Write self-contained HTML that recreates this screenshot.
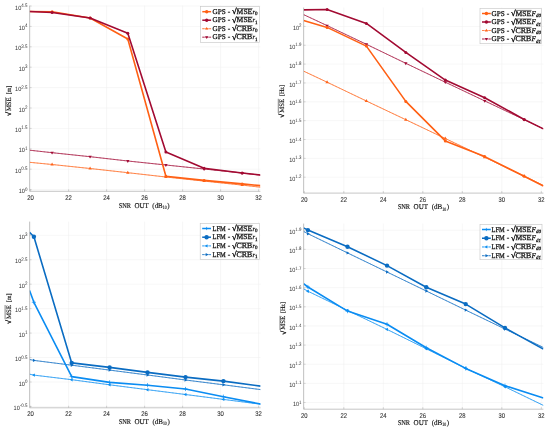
<!DOCTYPE html>
<html><head><meta charset="utf-8"><title>MSE vs SNR</title>
<style>html,body{margin:0;padding:0;background:#fff}svg{display:block}</style>
</head><body>
<svg width="550" height="432" viewBox="0 0 550 432" text-rendering="geometricPrecision">
<rect width="550" height="432" fill="#fff"/>
<defs>
<clipPath id="c0"><rect x="29.55" y="4.7" width="230.85" height="186.6"/></clipPath>
<clipPath id="c1"><rect x="303.55" y="6.6" width="239.85" height="186.5"/></clipPath>
<clipPath id="c2"><rect x="29.55" y="220.6" width="231.05" height="187.2"/></clipPath>
<clipPath id="c3"><rect x="303.55" y="222.6" width="239.85" height="186.6"/></clipPath>
</defs>
<line x1="30.6" y1="5.7" x2="30.6" y2="191.3" stroke="#eeeeee" stroke-width="0.5"/>
<line x1="68.6" y1="5.7" x2="68.6" y2="191.3" stroke="#eeeeee" stroke-width="0.5"/>
<line x1="106.6" y1="5.7" x2="106.6" y2="191.3" stroke="#eeeeee" stroke-width="0.5"/>
<line x1="144.6" y1="5.7" x2="144.6" y2="191.3" stroke="#eeeeee" stroke-width="0.5"/>
<line x1="182.6" y1="5.7" x2="182.6" y2="191.3" stroke="#eeeeee" stroke-width="0.5"/>
<line x1="220.6" y1="5.7" x2="220.6" y2="191.3" stroke="#eeeeee" stroke-width="0.5"/>
<line x1="258.6" y1="5.7" x2="258.6" y2="191.3" stroke="#eeeeee" stroke-width="0.5"/>
<line x1="29.55" y1="189.6" x2="260.4" y2="189.6" stroke="#eeeeee" stroke-width="0.5"/>
<line x1="29.55" y1="169.2" x2="260.4" y2="169.2" stroke="#eeeeee" stroke-width="0.5"/>
<line x1="29.55" y1="148.8" x2="260.4" y2="148.8" stroke="#eeeeee" stroke-width="0.5"/>
<line x1="29.55" y1="128.4" x2="260.4" y2="128.4" stroke="#eeeeee" stroke-width="0.5"/>
<line x1="29.55" y1="108" x2="260.4" y2="108" stroke="#eeeeee" stroke-width="0.5"/>
<line x1="29.55" y1="87.6" x2="260.4" y2="87.6" stroke="#eeeeee" stroke-width="0.5"/>
<line x1="29.55" y1="67.2" x2="260.4" y2="67.2" stroke="#eeeeee" stroke-width="0.5"/>
<line x1="29.55" y1="46.8" x2="260.4" y2="46.8" stroke="#eeeeee" stroke-width="0.5"/>
<line x1="29.55" y1="26.4" x2="260.4" y2="26.4" stroke="#eeeeee" stroke-width="0.5"/>
<line x1="29.55" y1="6" x2="260.4" y2="6" stroke="#eeeeee" stroke-width="0.5"/>
<line x1="304.3" y1="7.6" x2="304.3" y2="193.1" stroke="#eeeeee" stroke-width="0.5"/>
<line x1="343.8" y1="7.6" x2="343.8" y2="193.1" stroke="#eeeeee" stroke-width="0.5"/>
<line x1="383.3" y1="7.6" x2="383.3" y2="193.1" stroke="#eeeeee" stroke-width="0.5"/>
<line x1="422.8" y1="7.6" x2="422.8" y2="193.1" stroke="#eeeeee" stroke-width="0.5"/>
<line x1="462.3" y1="7.6" x2="462.3" y2="193.1" stroke="#eeeeee" stroke-width="0.5"/>
<line x1="501.8" y1="7.6" x2="501.8" y2="193.1" stroke="#eeeeee" stroke-width="0.5"/>
<line x1="541.3" y1="7.6" x2="541.3" y2="193.1" stroke="#eeeeee" stroke-width="0.5"/>
<line x1="303.55" y1="177.2" x2="543.4" y2="177.2" stroke="#eeeeee" stroke-width="0.5"/>
<line x1="303.55" y1="158.35" x2="543.4" y2="158.35" stroke="#eeeeee" stroke-width="0.5"/>
<line x1="303.55" y1="139.5" x2="543.4" y2="139.5" stroke="#eeeeee" stroke-width="0.5"/>
<line x1="303.55" y1="120.65" x2="543.4" y2="120.65" stroke="#eeeeee" stroke-width="0.5"/>
<line x1="303.55" y1="101.8" x2="543.4" y2="101.8" stroke="#eeeeee" stroke-width="0.5"/>
<line x1="303.55" y1="82.95" x2="543.4" y2="82.95" stroke="#eeeeee" stroke-width="0.5"/>
<line x1="303.55" y1="64.1" x2="543.4" y2="64.1" stroke="#eeeeee" stroke-width="0.5"/>
<line x1="303.55" y1="45.25" x2="543.4" y2="45.25" stroke="#eeeeee" stroke-width="0.5"/>
<line x1="303.55" y1="26.4" x2="543.4" y2="26.4" stroke="#eeeeee" stroke-width="0.5"/>
<line x1="30.6" y1="221.6" x2="30.6" y2="407.8" stroke="#eeeeee" stroke-width="0.5"/>
<line x1="68.6" y1="221.6" x2="68.6" y2="407.8" stroke="#eeeeee" stroke-width="0.5"/>
<line x1="106.6" y1="221.6" x2="106.6" y2="407.8" stroke="#eeeeee" stroke-width="0.5"/>
<line x1="144.6" y1="221.6" x2="144.6" y2="407.8" stroke="#eeeeee" stroke-width="0.5"/>
<line x1="182.6" y1="221.6" x2="182.6" y2="407.8" stroke="#eeeeee" stroke-width="0.5"/>
<line x1="220.6" y1="221.6" x2="220.6" y2="407.8" stroke="#eeeeee" stroke-width="0.5"/>
<line x1="258.6" y1="221.6" x2="258.6" y2="407.8" stroke="#eeeeee" stroke-width="0.5"/>
<line x1="29.55" y1="406.45" x2="260.6" y2="406.45" stroke="#eeeeee" stroke-width="0.5"/>
<line x1="29.55" y1="382" x2="260.6" y2="382" stroke="#eeeeee" stroke-width="0.5"/>
<line x1="29.55" y1="357.55" x2="260.6" y2="357.55" stroke="#eeeeee" stroke-width="0.5"/>
<line x1="29.55" y1="333.1" x2="260.6" y2="333.1" stroke="#eeeeee" stroke-width="0.5"/>
<line x1="29.55" y1="308.65" x2="260.6" y2="308.65" stroke="#eeeeee" stroke-width="0.5"/>
<line x1="29.55" y1="284.2" x2="260.6" y2="284.2" stroke="#eeeeee" stroke-width="0.5"/>
<line x1="29.55" y1="259.75" x2="260.6" y2="259.75" stroke="#eeeeee" stroke-width="0.5"/>
<line x1="29.55" y1="235.3" x2="260.6" y2="235.3" stroke="#eeeeee" stroke-width="0.5"/>
<line x1="304.3" y1="223.6" x2="304.3" y2="409.2" stroke="#eeeeee" stroke-width="0.5"/>
<line x1="343.8" y1="223.6" x2="343.8" y2="409.2" stroke="#eeeeee" stroke-width="0.5"/>
<line x1="383.3" y1="223.6" x2="383.3" y2="409.2" stroke="#eeeeee" stroke-width="0.5"/>
<line x1="422.8" y1="223.6" x2="422.8" y2="409.2" stroke="#eeeeee" stroke-width="0.5"/>
<line x1="462.3" y1="223.6" x2="462.3" y2="409.2" stroke="#eeeeee" stroke-width="0.5"/>
<line x1="501.8" y1="223.6" x2="501.8" y2="409.2" stroke="#eeeeee" stroke-width="0.5"/>
<line x1="541.3" y1="223.6" x2="541.3" y2="409.2" stroke="#eeeeee" stroke-width="0.5"/>
<line x1="303.55" y1="402.5" x2="543.4" y2="402.5" stroke="#eeeeee" stroke-width="0.5"/>
<line x1="303.55" y1="383.36" x2="543.4" y2="383.36" stroke="#eeeeee" stroke-width="0.5"/>
<line x1="303.55" y1="364.22" x2="543.4" y2="364.22" stroke="#eeeeee" stroke-width="0.5"/>
<line x1="303.55" y1="345.08" x2="543.4" y2="345.08" stroke="#eeeeee" stroke-width="0.5"/>
<line x1="303.55" y1="325.94" x2="543.4" y2="325.94" stroke="#eeeeee" stroke-width="0.5"/>
<line x1="303.55" y1="306.8" x2="543.4" y2="306.8" stroke="#eeeeee" stroke-width="0.5"/>
<line x1="303.55" y1="287.66" x2="543.4" y2="287.66" stroke="#eeeeee" stroke-width="0.5"/>
<line x1="303.55" y1="268.52" x2="543.4" y2="268.52" stroke="#eeeeee" stroke-width="0.5"/>
<line x1="303.55" y1="249.38" x2="543.4" y2="249.38" stroke="#eeeeee" stroke-width="0.5"/>
<line x1="303.55" y1="230.24" x2="543.4" y2="230.24" stroke="#eeeeee" stroke-width="0.5"/>
<path d="M29.55 150.2L52.1 152.7L90.1 156.7L127.8 161L165.9 165L204.1 169L242.1 173L260.4 175.2" fill="none" stroke="#a20c36" stroke-width="1.0" stroke-opacity="0.68" clip-path="url(#c0)"/>
<path d="M29.55 150.2L52.1 152.7L90.1 156.7L127.8 161L165.9 165L204.1 169L242.1 173L260.4 175.2" fill="none" stroke="#a20c36" stroke-width="1.0" stroke-opacity="0.42" stroke-dasharray="2 0.6 0.3 0.6" clip-path="url(#c0)"/>
<path d="M50.39 151.75L53.81 151.75L52.1 154.6Z" fill="#a20c36"/>
<path d="M88.39 155.75L91.81 155.75L90.1 158.6Z" fill="#a20c36"/>
<path d="M126.09 160.05L129.51 160.05L127.8 162.9Z" fill="#a20c36"/>
<path d="M164.19 164.05L167.61 164.05L165.9 166.9Z" fill="#a20c36"/>
<path d="M202.39 168.05L205.81 168.05L204.1 170.9Z" fill="#a20c36"/>
<path d="M240.39 172.05L243.81 172.05L242.1 174.9Z" fill="#a20c36"/>
<path d="M29.55 162.3L52.1 164.5L90.1 168.5L127.8 172.7L165.9 177L204.1 181.1L242.1 185.1L260.4 187.2" fill="none" stroke="#ff641a" stroke-width="1.0" stroke-opacity="0.68" clip-path="url(#c0)"/>
<path d="M29.55 162.3L52.1 164.5L90.1 168.5L127.8 172.7L165.9 177L204.1 181.1L242.1 185.1L260.4 187.2" fill="none" stroke="#ff641a" stroke-width="1.0" stroke-opacity="0.42" stroke-dasharray="2 0.6 0.3 0.6" clip-path="url(#c0)"/>
<path d="M50.39 165.45L53.81 165.45L52.1 162.6Z" fill="#ff641a"/>
<path d="M88.39 169.45L91.81 169.45L90.1 166.6Z" fill="#ff641a"/>
<path d="M126.09 173.65L129.51 173.65L127.8 170.8Z" fill="#ff641a"/>
<path d="M164.19 177.95L167.61 177.95L165.9 175.1Z" fill="#ff641a"/>
<path d="M202.39 182.05L205.81 182.05L204.1 179.2Z" fill="#ff641a"/>
<path d="M240.39 186.05L243.81 186.05L242.1 183.2Z" fill="#ff641a"/>
<path d="M29.55 11.5L52.1 11.8L90.1 18L127.8 39L165.9 176.3L204.1 180.4L242.1 183.9L260.4 185.6" fill="none" stroke="#ff6014" stroke-width="1.6" stroke-linejoin="round" clip-path="url(#c0)"/>
<circle cx="52.1" cy="11.8" r="1.5" fill="#ff6014"/>
<circle cx="90.1" cy="18" r="1.5" fill="#ff6014"/>
<circle cx="127.8" cy="39" r="1.5" fill="#ff6014"/>
<circle cx="165.9" cy="176.3" r="1.5" fill="#ff6014"/>
<circle cx="204.1" cy="180.4" r="1.5" fill="#ff6014"/>
<circle cx="242.1" cy="183.9" r="1.5" fill="#ff6014"/>
<path d="M29.55 11.5L52.1 12.5L90.1 18L127.8 33.2L165.9 152L204.1 168.3L242.1 173L260.4 175" fill="none" stroke="#a20a32" stroke-width="1.6" stroke-linejoin="round" clip-path="url(#c0)"/>
<circle cx="52.1" cy="12.5" r="1.5" fill="#a20a32"/>
<circle cx="90.1" cy="18" r="1.5" fill="#a20a32"/>
<circle cx="127.8" cy="33.2" r="1.5" fill="#a20a32"/>
<circle cx="165.9" cy="152" r="1.5" fill="#a20a32"/>
<circle cx="204.1" cy="168.3" r="1.5" fill="#a20a32"/>
<circle cx="242.1" cy="173" r="1.5" fill="#a20a32"/>
<path d="M303.55 14.6L327.1 25.6L366.4 44.3L405.8 63.3L445.3 82.2L484.7 100.9L524.1 119.6L543.4 128.9" fill="none" stroke="#a20c36" stroke-width="1.0" stroke-opacity="0.68" clip-path="url(#c1)"/>
<path d="M303.55 14.6L327.1 25.6L366.4 44.3L405.8 63.3L445.3 82.2L484.7 100.9L524.1 119.6L543.4 128.9" fill="none" stroke="#a20c36" stroke-width="1.0" stroke-opacity="0.42" stroke-dasharray="2 0.6 0.3 0.6" clip-path="url(#c1)"/>
<path d="M325.39 24.65L328.81 24.65L327.1 27.5Z" fill="#a20c36"/>
<path d="M364.69 43.35L368.11 43.35L366.4 46.2Z" fill="#a20c36"/>
<path d="M404.09 62.35L407.51 62.35L405.8 65.2Z" fill="#a20c36"/>
<path d="M443.59 81.25L447.01 81.25L445.3 84.1Z" fill="#a20c36"/>
<path d="M482.99 99.95L486.41 99.95L484.7 102.8Z" fill="#a20c36"/>
<path d="M522.39 118.65L525.81 118.65L524.1 121.5Z" fill="#a20c36"/>
<path d="M303.55 71.1L327.1 82.2L366.4 101L405.8 119.7L445.3 138.5L484.7 157.3L524.1 176L543.4 185.5" fill="none" stroke="#ff641a" stroke-width="1.0" stroke-opacity="0.68" clip-path="url(#c1)"/>
<path d="M303.55 71.1L327.1 82.2L366.4 101L405.8 119.7L445.3 138.5L484.7 157.3L524.1 176L543.4 185.5" fill="none" stroke="#ff641a" stroke-width="1.0" stroke-opacity="0.42" stroke-dasharray="2 0.6 0.3 0.6" clip-path="url(#c1)"/>
<path d="M325.39 83.15L328.81 83.15L327.1 80.3Z" fill="#ff641a"/>
<path d="M364.69 101.95L368.11 101.95L366.4 99.1Z" fill="#ff641a"/>
<path d="M404.09 120.65L407.51 120.65L405.8 117.8Z" fill="#ff641a"/>
<path d="M443.59 139.45L447.01 139.45L445.3 136.6Z" fill="#ff641a"/>
<path d="M482.99 158.25L486.41 158.25L484.7 155.4Z" fill="#ff641a"/>
<path d="M522.39 176.95L525.81 176.95L524.1 174.1Z" fill="#ff641a"/>
<path d="M303.55 20.5L327.1 27.4L366.4 46.1L405.8 101.4L445.3 140.9L484.7 156.6L524.1 176.3L543.4 186" fill="none" stroke="#ff6014" stroke-width="1.6" stroke-linejoin="round" clip-path="url(#c1)"/>
<circle cx="327.1" cy="27.4" r="1.5" fill="#ff6014"/>
<circle cx="366.4" cy="46.1" r="1.5" fill="#ff6014"/>
<circle cx="405.8" cy="101.4" r="1.5" fill="#ff6014"/>
<circle cx="445.3" cy="140.9" r="1.5" fill="#ff6014"/>
<circle cx="484.7" cy="156.6" r="1.5" fill="#ff6014"/>
<circle cx="524.1" cy="176.3" r="1.5" fill="#ff6014"/>
<path d="M303.55 9.9L327.1 9.5L366.4 23.4L405.8 52.4L445.3 80.1L484.7 97.7L524.1 119.4L543.4 128.9" fill="none" stroke="#a20a32" stroke-width="1.6" stroke-linejoin="round" clip-path="url(#c1)"/>
<circle cx="327.1" cy="9.5" r="1.5" fill="#a20a32"/>
<circle cx="366.4" cy="23.4" r="1.5" fill="#a20a32"/>
<circle cx="405.8" cy="52.4" r="1.5" fill="#a20a32"/>
<circle cx="445.3" cy="80.1" r="1.5" fill="#a20a32"/>
<circle cx="484.7" cy="97.7" r="1.5" fill="#a20a32"/>
<circle cx="524.1" cy="119.4" r="1.5" fill="#a20a32"/>
<path d="M29.55 374.2L33.9 375.1L71.7 379.7L109.6 384.8L147.5 389.7L185.5 394.5L223.4 399.4L260.6 404.2" fill="none" stroke="#0e90f2" stroke-width="1.0" stroke-opacity="0.68" clip-path="url(#c2)"/>
<path d="M29.55 374.2L33.9 375.1L71.7 379.7L109.6 384.8L147.5 389.7L185.5 394.5L223.4 399.4L260.6 404.2" fill="none" stroke="#0e90f2" stroke-width="1.0" stroke-opacity="0.42" stroke-dasharray="2 0.6 0.3 0.6" clip-path="url(#c2)"/>
<path d="M34.85 373.39L34.85 376.81L32 375.1Z" fill="#0e90f2"/>
<path d="M72.65 377.99L72.65 381.41L69.8 379.7Z" fill="#0e90f2"/>
<path d="M110.55 383.09L110.55 386.51L107.7 384.8Z" fill="#0e90f2"/>
<path d="M148.45 387.99L148.45 391.41L145.6 389.7Z" fill="#0e90f2"/>
<path d="M186.45 392.79L186.45 396.21L183.6 394.5Z" fill="#0e90f2"/>
<path d="M224.35 397.69L224.35 401.11L221.5 399.4Z" fill="#0e90f2"/>
<path d="M29.55 359.5L33.9 360.4L71.7 365.2L109.6 370.1L147.5 375L185.5 380L223.4 384.8L260.6 389.6" fill="none" stroke="#0c6cc2" stroke-width="1.0" stroke-opacity="0.68" clip-path="url(#c2)"/>
<path d="M29.55 359.5L33.9 360.4L71.7 365.2L109.6 370.1L147.5 375L185.5 380L223.4 384.8L260.6 389.6" fill="none" stroke="#0c6cc2" stroke-width="1.0" stroke-opacity="0.42" stroke-dasharray="2 0.6 0.3 0.6" clip-path="url(#c2)"/>
<path d="M32.95 358.69L32.95 362.11L35.8 360.4Z" fill="#0c6cc2"/>
<path d="M70.75 363.49L70.75 366.91L73.6 365.2Z" fill="#0c6cc2"/>
<path d="M108.65 368.39L108.65 371.81L111.5 370.1Z" fill="#0c6cc2"/>
<path d="M146.55 373.29L146.55 376.71L149.4 375Z" fill="#0c6cc2"/>
<path d="M184.55 378.29L184.55 381.71L187.4 380Z" fill="#0c6cc2"/>
<path d="M222.45 383.09L222.45 386.51L225.3 384.8Z" fill="#0c6cc2"/>
<path d="M29.55 290.4L33.9 302.3L71.7 376.6L109.6 382.4L147.5 385.2L185.5 389L223.4 396.7L260.6 404" fill="none" stroke="#0a8cf2" stroke-width="1.6" stroke-linejoin="round" clip-path="url(#c2)"/>
<path d="M31.8 302.3H36M33.9 300.2V304.4" stroke="#0a8cf2" stroke-width="0.7" fill="none"/>
<path d="M69.6 376.6H73.8M71.7 374.5V378.7" stroke="#0a8cf2" stroke-width="0.7" fill="none"/>
<path d="M107.5 382.4H111.7M109.6 380.3V384.5" stroke="#0a8cf2" stroke-width="0.7" fill="none"/>
<path d="M145.4 385.2H149.6M147.5 383.1V387.3" stroke="#0a8cf2" stroke-width="0.7" fill="none"/>
<path d="M183.4 389H187.6M185.5 386.9V391.1" stroke="#0a8cf2" stroke-width="0.7" fill="none"/>
<path d="M221.3 396.7H225.5M223.4 394.6V398.8" stroke="#0a8cf2" stroke-width="0.7" fill="none"/>
<path d="M29.55 232.4L33.9 236.8L71.7 362.9L109.6 367.4L147.5 372.4L185.5 377.1L223.4 381.1L260.6 386.1" fill="none" stroke="#0a6cc2" stroke-width="1.6" stroke-linejoin="round" clip-path="url(#c2)"/>
<circle cx="33.9" cy="236.8" r="2.2" fill="#0a6cc2"/>
<circle cx="71.7" cy="362.9" r="2.2" fill="#0a6cc2"/>
<circle cx="109.6" cy="367.4" r="2.2" fill="#0a6cc2"/>
<circle cx="147.5" cy="372.4" r="2.2" fill="#0a6cc2"/>
<circle cx="185.5" cy="377.1" r="2.2" fill="#0a6cc2"/>
<circle cx="223.4" cy="381.1" r="2.2" fill="#0a6cc2"/>
<path d="M303.55 288.8L307.9 291.2L347.5 310.4L387 329.4L426.3 348.8L465.7 368.3L505 386.8L543.4 405.4" fill="none" stroke="#0e90f2" stroke-width="1.0" stroke-opacity="0.68" clip-path="url(#c3)"/>
<path d="M303.55 288.8L307.9 291.2L347.5 310.4L387 329.4L426.3 348.8L465.7 368.3L505 386.8L543.4 405.4" fill="none" stroke="#0e90f2" stroke-width="1.0" stroke-opacity="0.42" stroke-dasharray="2 0.6 0.3 0.6" clip-path="url(#c3)"/>
<path d="M308.85 289.49L308.85 292.91L306 291.2Z" fill="#0e90f2"/>
<path d="M348.45 308.69L348.45 312.11L345.6 310.4Z" fill="#0e90f2"/>
<path d="M387.95 327.69L387.95 331.11L385.1 329.4Z" fill="#0e90f2"/>
<path d="M427.25 347.09L427.25 350.51L424.4 348.8Z" fill="#0e90f2"/>
<path d="M466.65 366.59L466.65 370.01L463.8 368.3Z" fill="#0e90f2"/>
<path d="M505.95 385.09L505.95 388.51L503.1 386.8Z" fill="#0e90f2"/>
<path d="M303.55 231.4L307.9 233.7L347.5 252.9L387 272L426.3 291L465.7 310.1L505 329L543.4 347.5" fill="none" stroke="#0c6cc2" stroke-width="1.0" stroke-opacity="0.68" clip-path="url(#c3)"/>
<path d="M303.55 231.4L307.9 233.7L347.5 252.9L387 272L426.3 291L465.7 310.1L505 329L543.4 347.5" fill="none" stroke="#0c6cc2" stroke-width="1.0" stroke-opacity="0.42" stroke-dasharray="2 0.6 0.3 0.6" clip-path="url(#c3)"/>
<path d="M306.95 231.99L306.95 235.41L309.8 233.7Z" fill="#0c6cc2"/>
<path d="M346.55 251.19L346.55 254.61L349.4 252.9Z" fill="#0c6cc2"/>
<path d="M386.05 270.29L386.05 273.71L388.9 272Z" fill="#0c6cc2"/>
<path d="M425.35 289.29L425.35 292.71L428.2 291Z" fill="#0c6cc2"/>
<path d="M464.75 308.39L464.75 311.81L467.6 310.1Z" fill="#0c6cc2"/>
<path d="M504.05 327.29L504.05 330.71L506.9 329Z" fill="#0c6cc2"/>
<path d="M303.55 283.7L307.9 287L347.5 311.1L387 324.3L426.3 347.8L465.7 368.4L505 385.7L543.4 398.1" fill="none" stroke="#0a8cf2" stroke-width="1.6" stroke-linejoin="round" clip-path="url(#c3)"/>
<path d="M305.8 287H310M307.9 284.9V289.1" stroke="#0a8cf2" stroke-width="0.7" fill="none"/>
<path d="M345.4 311.1H349.6M347.5 309V313.2" stroke="#0a8cf2" stroke-width="0.7" fill="none"/>
<path d="M384.9 324.3H389.1M387 322.2V326.4" stroke="#0a8cf2" stroke-width="0.7" fill="none"/>
<path d="M424.2 347.8H428.4M426.3 345.7V349.9" stroke="#0a8cf2" stroke-width="0.7" fill="none"/>
<path d="M463.6 368.4H467.8M465.7 366.3V370.5" stroke="#0a8cf2" stroke-width="0.7" fill="none"/>
<path d="M502.9 385.7H507.1M505 383.6V387.8" stroke="#0a8cf2" stroke-width="0.7" fill="none"/>
<path d="M303.55 227.9L307.9 230.1L347.5 246.7L387 265.6L426.3 287.2L465.7 304.1L505 327.9L543.4 349.1" fill="none" stroke="#0a6cc2" stroke-width="1.6" stroke-linejoin="round" clip-path="url(#c3)"/>
<circle cx="307.9" cy="230.1" r="2.2" fill="#0a6cc2"/>
<circle cx="347.5" cy="246.7" r="2.2" fill="#0a6cc2"/>
<circle cx="387" cy="265.6" r="2.2" fill="#0a6cc2"/>
<circle cx="426.3" cy="287.2" r="2.2" fill="#0a6cc2"/>
<circle cx="465.7" cy="304.1" r="2.2" fill="#0a6cc2"/>
<circle cx="505" cy="327.9" r="2.2" fill="#0a6cc2"/>
<path d="M29.55 5.7V191.3H260.4" fill="none" stroke="#adadad" stroke-width="0.7"/>
<line x1="30.6" y1="191.3" x2="30.6" y2="189.3" stroke="#adadad" stroke-width="0.5"/>
<g transform="translate(30.6,199.9) scale(0.86,1)"><text x="0" y="0" font-family='"Liberation Sans", sans-serif' font-size="6.9" fill="#333" stroke="#333" stroke-width="0.1" text-anchor="middle">20</text></g>
<line x1="68.6" y1="191.3" x2="68.6" y2="189.3" stroke="#adadad" stroke-width="0.5"/>
<g transform="translate(68.6,199.9) scale(0.86,1)"><text x="0" y="0" font-family='"Liberation Sans", sans-serif' font-size="6.9" fill="#333" stroke="#333" stroke-width="0.1" text-anchor="middle">22</text></g>
<line x1="106.6" y1="191.3" x2="106.6" y2="189.3" stroke="#adadad" stroke-width="0.5"/>
<g transform="translate(106.6,199.9) scale(0.86,1)"><text x="0" y="0" font-family='"Liberation Sans", sans-serif' font-size="6.9" fill="#333" stroke="#333" stroke-width="0.1" text-anchor="middle">24</text></g>
<line x1="144.6" y1="191.3" x2="144.6" y2="189.3" stroke="#adadad" stroke-width="0.5"/>
<g transform="translate(144.6,199.9) scale(0.86,1)"><text x="0" y="0" font-family='"Liberation Sans", sans-serif' font-size="6.9" fill="#333" stroke="#333" stroke-width="0.1" text-anchor="middle">26</text></g>
<line x1="182.6" y1="191.3" x2="182.6" y2="189.3" stroke="#adadad" stroke-width="0.5"/>
<g transform="translate(182.6,199.9) scale(0.86,1)"><text x="0" y="0" font-family='"Liberation Sans", sans-serif' font-size="6.9" fill="#333" stroke="#333" stroke-width="0.1" text-anchor="middle">28</text></g>
<line x1="220.6" y1="191.3" x2="220.6" y2="189.3" stroke="#adadad" stroke-width="0.5"/>
<g transform="translate(220.6,199.9) scale(0.86,1)"><text x="0" y="0" font-family='"Liberation Sans", sans-serif' font-size="6.9" fill="#333" stroke="#333" stroke-width="0.1" text-anchor="middle">30</text></g>
<line x1="258.6" y1="191.3" x2="258.6" y2="189.3" stroke="#adadad" stroke-width="0.5"/>
<g transform="translate(258.6,199.9) scale(0.86,1)"><text x="0" y="0" font-family='"Liberation Sans", sans-serif' font-size="6.9" fill="#333" stroke="#333" stroke-width="0.1" text-anchor="middle">32</text></g>
<line x1="29.55" y1="189.6" x2="31.55" y2="189.6" stroke="#adadad" stroke-width="0.5"/>
<g transform="translate(27.45,193.2) scale(0.9,1)"><text x="0" y="0" font-family='"Liberation Sans", sans-serif' font-size="6.2" fill="#333" text-anchor="end">10<tspan font-size="4.97" dy="-2.6">0</tspan></text></g>
<line x1="29.55" y1="169.2" x2="31.55" y2="169.2" stroke="#adadad" stroke-width="0.5"/>
<g transform="translate(27.45,172.8) scale(0.9,1)"><text x="0" y="0" font-family='"Liberation Sans", sans-serif' font-size="6.2" fill="#333" text-anchor="end">10<tspan font-size="4.97" dy="-2.6">0.5</tspan></text></g>
<line x1="29.55" y1="148.8" x2="31.55" y2="148.8" stroke="#adadad" stroke-width="0.5"/>
<g transform="translate(27.45,152.4) scale(0.9,1)"><text x="0" y="0" font-family='"Liberation Sans", sans-serif' font-size="6.2" fill="#333" text-anchor="end">10<tspan font-size="4.97" dy="-2.6">1</tspan></text></g>
<line x1="29.55" y1="128.4" x2="31.55" y2="128.4" stroke="#adadad" stroke-width="0.5"/>
<g transform="translate(27.45,132) scale(0.9,1)"><text x="0" y="0" font-family='"Liberation Sans", sans-serif' font-size="6.2" fill="#333" text-anchor="end">10<tspan font-size="4.97" dy="-2.6">1.5</tspan></text></g>
<line x1="29.55" y1="108" x2="31.55" y2="108" stroke="#adadad" stroke-width="0.5"/>
<g transform="translate(27.45,111.6) scale(0.9,1)"><text x="0" y="0" font-family='"Liberation Sans", sans-serif' font-size="6.2" fill="#333" text-anchor="end">10<tspan font-size="4.97" dy="-2.6">2</tspan></text></g>
<line x1="29.55" y1="87.6" x2="31.55" y2="87.6" stroke="#adadad" stroke-width="0.5"/>
<g transform="translate(27.45,91.2) scale(0.9,1)"><text x="0" y="0" font-family='"Liberation Sans", sans-serif' font-size="6.2" fill="#333" text-anchor="end">10<tspan font-size="4.97" dy="-2.6">2.5</tspan></text></g>
<line x1="29.55" y1="67.2" x2="31.55" y2="67.2" stroke="#adadad" stroke-width="0.5"/>
<g transform="translate(27.45,70.8) scale(0.9,1)"><text x="0" y="0" font-family='"Liberation Sans", sans-serif' font-size="6.2" fill="#333" text-anchor="end">10<tspan font-size="4.97" dy="-2.6">3</tspan></text></g>
<line x1="29.55" y1="46.8" x2="31.55" y2="46.8" stroke="#adadad" stroke-width="0.5"/>
<g transform="translate(27.45,50.4) scale(0.9,1)"><text x="0" y="0" font-family='"Liberation Sans", sans-serif' font-size="6.2" fill="#333" text-anchor="end">10<tspan font-size="4.97" dy="-2.6">3.5</tspan></text></g>
<line x1="29.55" y1="26.4" x2="31.55" y2="26.4" stroke="#adadad" stroke-width="0.5"/>
<g transform="translate(27.45,30) scale(0.9,1)"><text x="0" y="0" font-family='"Liberation Sans", sans-serif' font-size="6.2" fill="#333" text-anchor="end">10<tspan font-size="4.97" dy="-2.6">4</tspan></text></g>
<line x1="29.55" y1="6" x2="31.55" y2="6" stroke="#adadad" stroke-width="0.5"/>
<g transform="translate(27.45,9.6) scale(0.9,1)"><text x="0" y="0" font-family='"Liberation Sans", sans-serif' font-size="6.2" fill="#333" text-anchor="end">10<tspan font-size="4.97" dy="-2.6">4.5</tspan></text></g>
<text x="118.7" y="207.7" font-family='"Liberation Serif", serif' font-size="7.4" fill="#111" text-anchor="start" textLength="12.3" lengthAdjust="spacingAndGlyphs" stroke="#111" stroke-width="0.15">SNR</text>
<text x="134.4" y="207.7" font-family='"Liberation Serif", serif' font-size="7.4" fill="#111" text-anchor="start" textLength="14.4" lengthAdjust="spacingAndGlyphs" stroke="#111" stroke-width="0.15">OUT</text>
<text x="152.3" y="207.7" font-family='"Liberation Serif", serif' font-size="7.4" fill="#111" text-anchor="start" textLength="10.5" lengthAdjust="spacingAndGlyphs" stroke="#111" stroke-width="0.15">(dB</text>
<text x="162.8" y="209" font-family='"Liberation Serif", serif' font-size="5.2" fill="#111" text-anchor="start" textLength="3.8" lengthAdjust="spacingAndGlyphs" stroke="#111" stroke-width="0.15">10</text>
<text x="167.3" y="207.7" font-family='"Liberation Serif", serif' font-size="7.4" fill="#111" text-anchor="start" textLength="2.3" lengthAdjust="spacingAndGlyphs" stroke="#111" stroke-width="0.15">)</text>
<g transform="translate(11,115.8) rotate(-90)"><text x="-0.3" y="0.3" font-family='"Liberation Serif", serif' font-size="7.2" fill="#111" text-anchor="start" stroke="#111" stroke-width="0.3">√</text><text x="4.7" y="0" font-family='"Liberation Serif", serif' font-size="6.7" fill="#111" text-anchor="start" textLength="13.7" lengthAdjust="spacingAndGlyphs" stroke="#111" stroke-width="0.15">MSE</text><text x="21.4" y="0" font-family='"Liberation Serif", serif' font-size="6.7" fill="#111" text-anchor="start" textLength="8.8" lengthAdjust="spacingAndGlyphs" stroke="#111" stroke-width="0.15">[m]</text><line x1="4.3" y1="-5.4" x2="18.6" y2="-5.4" stroke="#222" stroke-width="0.55"/></g>
<path d="M303.55 7.6V193.1H543.4" fill="none" stroke="#adadad" stroke-width="0.7"/>
<line x1="304.3" y1="193.1" x2="304.3" y2="191.1" stroke="#adadad" stroke-width="0.5"/>
<g transform="translate(304.3,201.7) scale(0.86,1)"><text x="0" y="0" font-family='"Liberation Sans", sans-serif' font-size="6.8" fill="#333" stroke="#333" stroke-width="0.1" text-anchor="middle">20</text></g>
<line x1="343.8" y1="193.1" x2="343.8" y2="191.1" stroke="#adadad" stroke-width="0.5"/>
<g transform="translate(343.8,201.7) scale(0.86,1)"><text x="0" y="0" font-family='"Liberation Sans", sans-serif' font-size="6.8" fill="#333" stroke="#333" stroke-width="0.1" text-anchor="middle">22</text></g>
<line x1="383.3" y1="193.1" x2="383.3" y2="191.1" stroke="#adadad" stroke-width="0.5"/>
<g transform="translate(383.3,201.7) scale(0.86,1)"><text x="0" y="0" font-family='"Liberation Sans", sans-serif' font-size="6.8" fill="#333" stroke="#333" stroke-width="0.1" text-anchor="middle">24</text></g>
<line x1="422.8" y1="193.1" x2="422.8" y2="191.1" stroke="#adadad" stroke-width="0.5"/>
<g transform="translate(422.8,201.7) scale(0.86,1)"><text x="0" y="0" font-family='"Liberation Sans", sans-serif' font-size="6.8" fill="#333" stroke="#333" stroke-width="0.1" text-anchor="middle">26</text></g>
<line x1="462.3" y1="193.1" x2="462.3" y2="191.1" stroke="#adadad" stroke-width="0.5"/>
<g transform="translate(462.3,201.7) scale(0.86,1)"><text x="0" y="0" font-family='"Liberation Sans", sans-serif' font-size="6.8" fill="#333" stroke="#333" stroke-width="0.1" text-anchor="middle">28</text></g>
<line x1="501.8" y1="193.1" x2="501.8" y2="191.1" stroke="#adadad" stroke-width="0.5"/>
<g transform="translate(501.8,201.7) scale(0.86,1)"><text x="0" y="0" font-family='"Liberation Sans", sans-serif' font-size="6.8" fill="#333" stroke="#333" stroke-width="0.1" text-anchor="middle">30</text></g>
<line x1="541.3" y1="193.1" x2="541.3" y2="191.1" stroke="#adadad" stroke-width="0.5"/>
<g transform="translate(541.3,201.7) scale(0.86,1)"><text x="0" y="0" font-family='"Liberation Sans", sans-serif' font-size="6.8" fill="#333" stroke="#333" stroke-width="0.1" text-anchor="middle">32</text></g>
<line x1="303.55" y1="177.2" x2="305.55" y2="177.2" stroke="#adadad" stroke-width="0.5"/>
<g transform="translate(301.45,180.8) scale(0.9,1)"><text x="0" y="0" font-family='"Liberation Sans", sans-serif' font-size="6.1" fill="#333" text-anchor="end">10<tspan font-size="4.9" dy="-2.6">1.2</tspan></text></g>
<line x1="303.55" y1="158.35" x2="305.55" y2="158.35" stroke="#adadad" stroke-width="0.5"/>
<g transform="translate(301.45,161.95) scale(0.9,1)"><text x="0" y="0" font-family='"Liberation Sans", sans-serif' font-size="6.1" fill="#333" text-anchor="end">10<tspan font-size="4.9" dy="-2.6">1.3</tspan></text></g>
<line x1="303.55" y1="139.5" x2="305.55" y2="139.5" stroke="#adadad" stroke-width="0.5"/>
<g transform="translate(301.45,143.1) scale(0.9,1)"><text x="0" y="0" font-family='"Liberation Sans", sans-serif' font-size="6.1" fill="#333" text-anchor="end">10<tspan font-size="4.9" dy="-2.6">1.4</tspan></text></g>
<line x1="303.55" y1="120.65" x2="305.55" y2="120.65" stroke="#adadad" stroke-width="0.5"/>
<g transform="translate(301.45,124.25) scale(0.9,1)"><text x="0" y="0" font-family='"Liberation Sans", sans-serif' font-size="6.1" fill="#333" text-anchor="end">10<tspan font-size="4.9" dy="-2.6">1.5</tspan></text></g>
<line x1="303.55" y1="101.8" x2="305.55" y2="101.8" stroke="#adadad" stroke-width="0.5"/>
<g transform="translate(301.45,105.4) scale(0.9,1)"><text x="0" y="0" font-family='"Liberation Sans", sans-serif' font-size="6.1" fill="#333" text-anchor="end">10<tspan font-size="4.9" dy="-2.6">1.6</tspan></text></g>
<line x1="303.55" y1="82.95" x2="305.55" y2="82.95" stroke="#adadad" stroke-width="0.5"/>
<g transform="translate(301.45,86.55) scale(0.9,1)"><text x="0" y="0" font-family='"Liberation Sans", sans-serif' font-size="6.1" fill="#333" text-anchor="end">10<tspan font-size="4.9" dy="-2.6">1.7</tspan></text></g>
<line x1="303.55" y1="64.1" x2="305.55" y2="64.1" stroke="#adadad" stroke-width="0.5"/>
<g transform="translate(301.45,67.7) scale(0.9,1)"><text x="0" y="0" font-family='"Liberation Sans", sans-serif' font-size="6.1" fill="#333" text-anchor="end">10<tspan font-size="4.9" dy="-2.6">1.8</tspan></text></g>
<line x1="303.55" y1="45.25" x2="305.55" y2="45.25" stroke="#adadad" stroke-width="0.5"/>
<g transform="translate(301.45,48.85) scale(0.9,1)"><text x="0" y="0" font-family='"Liberation Sans", sans-serif' font-size="6.1" fill="#333" text-anchor="end">10<tspan font-size="4.9" dy="-2.6">1.9</tspan></text></g>
<line x1="303.55" y1="26.4" x2="305.55" y2="26.4" stroke="#adadad" stroke-width="0.5"/>
<g transform="translate(301.45,30) scale(0.9,1)"><text x="0" y="0" font-family='"Liberation Sans", sans-serif' font-size="6.1" fill="#333" text-anchor="end">10<tspan font-size="4.9" dy="-2.6">2</tspan></text></g>
<text x="397.7" y="209.4" font-family='"Liberation Serif", serif' font-size="7.4" fill="#111" text-anchor="start" textLength="12.42" lengthAdjust="spacingAndGlyphs" stroke="#111" stroke-width="0.15">SNR</text>
<text x="413.55" y="209.4" font-family='"Liberation Serif", serif' font-size="7.4" fill="#111" text-anchor="start" textLength="14.54" lengthAdjust="spacingAndGlyphs" stroke="#111" stroke-width="0.15">OUT</text>
<text x="431.63" y="209.4" font-family='"Liberation Serif", serif' font-size="7.4" fill="#111" text-anchor="start" textLength="10.6" lengthAdjust="spacingAndGlyphs" stroke="#111" stroke-width="0.15">(dB</text>
<text x="442.23" y="210.7" font-family='"Liberation Serif", serif' font-size="5.2" fill="#111" text-anchor="start" textLength="3.84" lengthAdjust="spacingAndGlyphs" stroke="#111" stroke-width="0.15">10</text>
<text x="446.78" y="209.4" font-family='"Liberation Serif", serif' font-size="7.4" fill="#111" text-anchor="start" textLength="2.32" lengthAdjust="spacingAndGlyphs" stroke="#111" stroke-width="0.15">)</text>
<g transform="translate(283.7,117.4) rotate(-90)"><text x="-0.3" y="0.3" font-family='"Liberation Serif", serif' font-size="7.2" fill="#111" text-anchor="start" stroke="#111" stroke-width="0.3">√</text><text x="4.7" y="0" font-family='"Liberation Serif", serif' font-size="6.7" fill="#111" text-anchor="start" textLength="13.7" lengthAdjust="spacingAndGlyphs" stroke="#111" stroke-width="0.15">MSE</text><text x="21.4" y="0" font-family='"Liberation Serif", serif' font-size="6.7" fill="#111" text-anchor="start" textLength="11" lengthAdjust="spacingAndGlyphs" stroke="#111" stroke-width="0.15">[Hz]</text><line x1="4.3" y1="-5.4" x2="18.6" y2="-5.4" stroke="#222" stroke-width="0.55"/></g>
<path d="M29.55 221.6V407.8H260.6" fill="none" stroke="#adadad" stroke-width="0.7"/>
<line x1="30.6" y1="407.8" x2="30.6" y2="405.8" stroke="#adadad" stroke-width="0.5"/>
<g transform="translate(30.6,416.4) scale(0.86,1)"><text x="0" y="0" font-family='"Liberation Sans", sans-serif' font-size="6.9" fill="#333" stroke="#333" stroke-width="0.1" text-anchor="middle">20</text></g>
<line x1="68.6" y1="407.8" x2="68.6" y2="405.8" stroke="#adadad" stroke-width="0.5"/>
<g transform="translate(68.6,416.4) scale(0.86,1)"><text x="0" y="0" font-family='"Liberation Sans", sans-serif' font-size="6.9" fill="#333" stroke="#333" stroke-width="0.1" text-anchor="middle">22</text></g>
<line x1="106.6" y1="407.8" x2="106.6" y2="405.8" stroke="#adadad" stroke-width="0.5"/>
<g transform="translate(106.6,416.4) scale(0.86,1)"><text x="0" y="0" font-family='"Liberation Sans", sans-serif' font-size="6.9" fill="#333" stroke="#333" stroke-width="0.1" text-anchor="middle">24</text></g>
<line x1="144.6" y1="407.8" x2="144.6" y2="405.8" stroke="#adadad" stroke-width="0.5"/>
<g transform="translate(144.6,416.4) scale(0.86,1)"><text x="0" y="0" font-family='"Liberation Sans", sans-serif' font-size="6.9" fill="#333" stroke="#333" stroke-width="0.1" text-anchor="middle">26</text></g>
<line x1="182.6" y1="407.8" x2="182.6" y2="405.8" stroke="#adadad" stroke-width="0.5"/>
<g transform="translate(182.6,416.4) scale(0.86,1)"><text x="0" y="0" font-family='"Liberation Sans", sans-serif' font-size="6.9" fill="#333" stroke="#333" stroke-width="0.1" text-anchor="middle">28</text></g>
<line x1="220.6" y1="407.8" x2="220.6" y2="405.8" stroke="#adadad" stroke-width="0.5"/>
<g transform="translate(220.6,416.4) scale(0.86,1)"><text x="0" y="0" font-family='"Liberation Sans", sans-serif' font-size="6.9" fill="#333" stroke="#333" stroke-width="0.1" text-anchor="middle">30</text></g>
<line x1="258.6" y1="407.8" x2="258.6" y2="405.8" stroke="#adadad" stroke-width="0.5"/>
<g transform="translate(258.6,416.4) scale(0.86,1)"><text x="0" y="0" font-family='"Liberation Sans", sans-serif' font-size="6.9" fill="#333" stroke="#333" stroke-width="0.1" text-anchor="middle">32</text></g>
<line x1="29.55" y1="406.45" x2="31.55" y2="406.45" stroke="#adadad" stroke-width="0.5"/>
<g transform="translate(27.45,410.05) scale(0.9,1)"><text x="0" y="0" font-family='"Liberation Sans", sans-serif' font-size="6.2" fill="#333" text-anchor="end">10<tspan font-size="4.97" dy="-2.6">-0.5</tspan></text></g>
<line x1="29.55" y1="382" x2="31.55" y2="382" stroke="#adadad" stroke-width="0.5"/>
<g transform="translate(27.45,385.6) scale(0.9,1)"><text x="0" y="0" font-family='"Liberation Sans", sans-serif' font-size="6.2" fill="#333" text-anchor="end">10<tspan font-size="4.97" dy="-2.6">0</tspan></text></g>
<line x1="29.55" y1="357.55" x2="31.55" y2="357.55" stroke="#adadad" stroke-width="0.5"/>
<g transform="translate(27.45,361.15) scale(0.9,1)"><text x="0" y="0" font-family='"Liberation Sans", sans-serif' font-size="6.2" fill="#333" text-anchor="end">10<tspan font-size="4.97" dy="-2.6">0.5</tspan></text></g>
<line x1="29.55" y1="333.1" x2="31.55" y2="333.1" stroke="#adadad" stroke-width="0.5"/>
<g transform="translate(27.45,336.7) scale(0.9,1)"><text x="0" y="0" font-family='"Liberation Sans", sans-serif' font-size="6.2" fill="#333" text-anchor="end">10<tspan font-size="4.97" dy="-2.6">1</tspan></text></g>
<line x1="29.55" y1="308.65" x2="31.55" y2="308.65" stroke="#adadad" stroke-width="0.5"/>
<g transform="translate(27.45,312.25) scale(0.9,1)"><text x="0" y="0" font-family='"Liberation Sans", sans-serif' font-size="6.2" fill="#333" text-anchor="end">10<tspan font-size="4.97" dy="-2.6">1.5</tspan></text></g>
<line x1="29.55" y1="284.2" x2="31.55" y2="284.2" stroke="#adadad" stroke-width="0.5"/>
<g transform="translate(27.45,287.8) scale(0.9,1)"><text x="0" y="0" font-family='"Liberation Sans", sans-serif' font-size="6.2" fill="#333" text-anchor="end">10<tspan font-size="4.97" dy="-2.6">2</tspan></text></g>
<line x1="29.55" y1="259.75" x2="31.55" y2="259.75" stroke="#adadad" stroke-width="0.5"/>
<g transform="translate(27.45,263.35) scale(0.9,1)"><text x="0" y="0" font-family='"Liberation Sans", sans-serif' font-size="6.2" fill="#333" text-anchor="end">10<tspan font-size="4.97" dy="-2.6">2.5</tspan></text></g>
<line x1="29.55" y1="235.3" x2="31.55" y2="235.3" stroke="#adadad" stroke-width="0.5"/>
<g transform="translate(27.45,238.9) scale(0.9,1)"><text x="0" y="0" font-family='"Liberation Sans", sans-serif' font-size="6.2" fill="#333" text-anchor="end">10<tspan font-size="4.97" dy="-2.6">3</tspan></text></g>
<text x="118.7" y="423.7" font-family='"Liberation Serif", serif' font-size="7.4" fill="#111" text-anchor="start" textLength="12.35" lengthAdjust="spacingAndGlyphs" stroke="#111" stroke-width="0.15">SNR</text>
<text x="134.46" y="423.7" font-family='"Liberation Serif", serif' font-size="7.4" fill="#111" text-anchor="start" textLength="14.46" lengthAdjust="spacingAndGlyphs" stroke="#111" stroke-width="0.15">OUT</text>
<text x="152.43" y="423.7" font-family='"Liberation Serif", serif' font-size="7.4" fill="#111" text-anchor="start" textLength="10.54" lengthAdjust="spacingAndGlyphs" stroke="#111" stroke-width="0.15">(dB</text>
<text x="162.97" y="425" font-family='"Liberation Serif", serif' font-size="5.2" fill="#111" text-anchor="start" textLength="3.81" lengthAdjust="spacingAndGlyphs" stroke="#111" stroke-width="0.15">10</text>
<text x="167.49" y="423.7" font-family='"Liberation Serif", serif' font-size="7.4" fill="#111" text-anchor="start" textLength="2.31" lengthAdjust="spacingAndGlyphs" stroke="#111" stroke-width="0.15">)</text>
<g transform="translate(10.5,323.6) rotate(-90)"><text x="-0.3" y="0.3" font-family='"Liberation Serif", serif' font-size="7.2" fill="#111" text-anchor="start" stroke="#111" stroke-width="0.3">√</text><text x="4.7" y="0" font-family='"Liberation Serif", serif' font-size="6.7" fill="#111" text-anchor="start" textLength="13.7" lengthAdjust="spacingAndGlyphs" stroke="#111" stroke-width="0.15">MSE</text><text x="21.4" y="0" font-family='"Liberation Serif", serif' font-size="6.7" fill="#111" text-anchor="start" textLength="8.8" lengthAdjust="spacingAndGlyphs" stroke="#111" stroke-width="0.15">[m]</text><line x1="4.3" y1="-5.4" x2="18.6" y2="-5.4" stroke="#222" stroke-width="0.55"/></g>
<path d="M303.55 223.6V409.2H543.4" fill="none" stroke="#adadad" stroke-width="0.7"/>
<line x1="304.3" y1="409.2" x2="304.3" y2="407.2" stroke="#adadad" stroke-width="0.5"/>
<g transform="translate(304.3,417.8) scale(0.86,1)"><text x="0" y="0" font-family='"Liberation Sans", sans-serif' font-size="6.8" fill="#333" stroke="#333" stroke-width="0.1" text-anchor="middle">20</text></g>
<line x1="343.8" y1="409.2" x2="343.8" y2="407.2" stroke="#adadad" stroke-width="0.5"/>
<g transform="translate(343.8,417.8) scale(0.86,1)"><text x="0" y="0" font-family='"Liberation Sans", sans-serif' font-size="6.8" fill="#333" stroke="#333" stroke-width="0.1" text-anchor="middle">22</text></g>
<line x1="383.3" y1="409.2" x2="383.3" y2="407.2" stroke="#adadad" stroke-width="0.5"/>
<g transform="translate(383.3,417.8) scale(0.86,1)"><text x="0" y="0" font-family='"Liberation Sans", sans-serif' font-size="6.8" fill="#333" stroke="#333" stroke-width="0.1" text-anchor="middle">24</text></g>
<line x1="422.8" y1="409.2" x2="422.8" y2="407.2" stroke="#adadad" stroke-width="0.5"/>
<g transform="translate(422.8,417.8) scale(0.86,1)"><text x="0" y="0" font-family='"Liberation Sans", sans-serif' font-size="6.8" fill="#333" stroke="#333" stroke-width="0.1" text-anchor="middle">26</text></g>
<line x1="462.3" y1="409.2" x2="462.3" y2="407.2" stroke="#adadad" stroke-width="0.5"/>
<g transform="translate(462.3,417.8) scale(0.86,1)"><text x="0" y="0" font-family='"Liberation Sans", sans-serif' font-size="6.8" fill="#333" stroke="#333" stroke-width="0.1" text-anchor="middle">28</text></g>
<line x1="501.8" y1="409.2" x2="501.8" y2="407.2" stroke="#adadad" stroke-width="0.5"/>
<g transform="translate(501.8,417.8) scale(0.86,1)"><text x="0" y="0" font-family='"Liberation Sans", sans-serif' font-size="6.8" fill="#333" stroke="#333" stroke-width="0.1" text-anchor="middle">30</text></g>
<line x1="541.3" y1="409.2" x2="541.3" y2="407.2" stroke="#adadad" stroke-width="0.5"/>
<g transform="translate(541.3,417.8) scale(0.86,1)"><text x="0" y="0" font-family='"Liberation Sans", sans-serif' font-size="6.8" fill="#333" stroke="#333" stroke-width="0.1" text-anchor="middle">32</text></g>
<line x1="303.55" y1="402.5" x2="305.55" y2="402.5" stroke="#adadad" stroke-width="0.5"/>
<g transform="translate(301.45,406.1) scale(0.9,1)"><text x="0" y="0" font-family='"Liberation Sans", sans-serif' font-size="6.1" fill="#333" text-anchor="end">10<tspan font-size="4.9" dy="-2.6">1</tspan></text></g>
<line x1="303.55" y1="383.36" x2="305.55" y2="383.36" stroke="#adadad" stroke-width="0.5"/>
<g transform="translate(301.45,386.96) scale(0.9,1)"><text x="0" y="0" font-family='"Liberation Sans", sans-serif' font-size="6.1" fill="#333" text-anchor="end">10<tspan font-size="4.9" dy="-2.6">1.1</tspan></text></g>
<line x1="303.55" y1="364.22" x2="305.55" y2="364.22" stroke="#adadad" stroke-width="0.5"/>
<g transform="translate(301.45,367.82) scale(0.9,1)"><text x="0" y="0" font-family='"Liberation Sans", sans-serif' font-size="6.1" fill="#333" text-anchor="end">10<tspan font-size="4.9" dy="-2.6">1.2</tspan></text></g>
<line x1="303.55" y1="345.08" x2="305.55" y2="345.08" stroke="#adadad" stroke-width="0.5"/>
<g transform="translate(301.45,348.68) scale(0.9,1)"><text x="0" y="0" font-family='"Liberation Sans", sans-serif' font-size="6.1" fill="#333" text-anchor="end">10<tspan font-size="4.9" dy="-2.6">1.3</tspan></text></g>
<line x1="303.55" y1="325.94" x2="305.55" y2="325.94" stroke="#adadad" stroke-width="0.5"/>
<g transform="translate(301.45,329.54) scale(0.9,1)"><text x="0" y="0" font-family='"Liberation Sans", sans-serif' font-size="6.1" fill="#333" text-anchor="end">10<tspan font-size="4.9" dy="-2.6">1.4</tspan></text></g>
<line x1="303.55" y1="306.8" x2="305.55" y2="306.8" stroke="#adadad" stroke-width="0.5"/>
<g transform="translate(301.45,310.4) scale(0.9,1)"><text x="0" y="0" font-family='"Liberation Sans", sans-serif' font-size="6.1" fill="#333" text-anchor="end">10<tspan font-size="4.9" dy="-2.6">1.5</tspan></text></g>
<line x1="303.55" y1="287.66" x2="305.55" y2="287.66" stroke="#adadad" stroke-width="0.5"/>
<g transform="translate(301.45,291.26) scale(0.9,1)"><text x="0" y="0" font-family='"Liberation Sans", sans-serif' font-size="6.1" fill="#333" text-anchor="end">10<tspan font-size="4.9" dy="-2.6">1.6</tspan></text></g>
<line x1="303.55" y1="268.52" x2="305.55" y2="268.52" stroke="#adadad" stroke-width="0.5"/>
<g transform="translate(301.45,272.12) scale(0.9,1)"><text x="0" y="0" font-family='"Liberation Sans", sans-serif' font-size="6.1" fill="#333" text-anchor="end">10<tspan font-size="4.9" dy="-2.6">1.7</tspan></text></g>
<line x1="303.55" y1="249.38" x2="305.55" y2="249.38" stroke="#adadad" stroke-width="0.5"/>
<g transform="translate(301.45,252.98) scale(0.9,1)"><text x="0" y="0" font-family='"Liberation Sans", sans-serif' font-size="6.1" fill="#333" text-anchor="end">10<tspan font-size="4.9" dy="-2.6">1.8</tspan></text></g>
<line x1="303.55" y1="230.24" x2="305.55" y2="230.24" stroke="#adadad" stroke-width="0.5"/>
<g transform="translate(301.45,233.84) scale(0.9,1)"><text x="0" y="0" font-family='"Liberation Sans", sans-serif' font-size="6.1" fill="#333" text-anchor="end">10<tspan font-size="4.9" dy="-2.6">1.9</tspan></text></g>
<text x="397.7" y="425" font-family='"Liberation Serif", serif' font-size="7.4" fill="#111" text-anchor="start" textLength="12.42" lengthAdjust="spacingAndGlyphs" stroke="#111" stroke-width="0.15">SNR</text>
<text x="413.55" y="425" font-family='"Liberation Serif", serif' font-size="7.4" fill="#111" text-anchor="start" textLength="14.54" lengthAdjust="spacingAndGlyphs" stroke="#111" stroke-width="0.15">OUT</text>
<text x="431.63" y="425" font-family='"Liberation Serif", serif' font-size="7.4" fill="#111" text-anchor="start" textLength="10.6" lengthAdjust="spacingAndGlyphs" stroke="#111" stroke-width="0.15">(dB</text>
<text x="442.23" y="426.3" font-family='"Liberation Serif", serif' font-size="5.2" fill="#111" text-anchor="start" textLength="3.84" lengthAdjust="spacingAndGlyphs" stroke="#111" stroke-width="0.15">10</text>
<text x="446.78" y="425" font-family='"Liberation Serif", serif' font-size="7.4" fill="#111" text-anchor="start" textLength="2.32" lengthAdjust="spacingAndGlyphs" stroke="#111" stroke-width="0.15">)</text>
<g transform="translate(285.4,334.4) rotate(-90)"><text x="-0.3" y="0.3" font-family='"Liberation Serif", serif' font-size="7.2" fill="#111" text-anchor="start" stroke="#111" stroke-width="0.3">√</text><text x="4.7" y="0" font-family='"Liberation Serif", serif' font-size="6.7" fill="#111" text-anchor="start" textLength="13.7" lengthAdjust="spacingAndGlyphs" stroke="#111" stroke-width="0.15">MSE</text><text x="21.4" y="0" font-family='"Liberation Serif", serif' font-size="6.7" fill="#111" text-anchor="start" textLength="11" lengthAdjust="spacingAndGlyphs" stroke="#111" stroke-width="0.15">[Hz]</text><line x1="4.3" y1="-5.4" x2="18.6" y2="-5.4" stroke="#222" stroke-width="0.55"/></g>
<rect x="200.3" y="6.5" width="59.2" height="35.8" fill="#fff" stroke="#c4c4c4" stroke-width="0.6"/>
<line x1="202.3" y1="11.7" x2="211.1" y2="11.7" stroke="#ff6014" stroke-width="1.5"/>
<circle cx="206.7" cy="11.7" r="1.7" fill="#ff6014"/>
<text x="212.6" y="13.9" font-family='"Liberation Serif", serif' font-size="7.4" fill="#1a1a1a" text-anchor="start" textLength="13.2" lengthAdjust="spacingAndGlyphs" stroke="#111" stroke-width="0.27">GPS</text>
<text x="227.8" y="13.9" font-family='"Liberation Serif", serif' font-size="7.4" fill="#1a1a1a" text-anchor="start" stroke="#111" stroke-width="0.27">-</text>
<text x="232" y="14.4" font-family='"Liberation Serif", serif' font-size="8.3" fill="#1a1a1a" text-anchor="start" stroke="#111" stroke-width="0.35">√</text>
<text x="236.6" y="13.9" font-family='"Liberation Serif", serif' font-size="7.4" fill="#1a1a1a" text-anchor="start" textLength="15.7" lengthAdjust="spacingAndGlyphs" stroke="#111" stroke-width="0.27">MSE</text>
<line x1="236.2" y1="8.6" x2="252.6" y2="8.6" stroke="#1a1a1a" stroke-width="0.6"/>
<text x="252.5" y="13.9" font-family='"Liberation Serif", serif' font-size="6.6" fill="#1a1a1a" text-anchor="start" font-style="italic" stroke="#111" stroke-width="0.27">r</text>
<text x="255.1" y="15.1" font-family='"Liberation Serif", serif' font-size="5.0" fill="#1a1a1a" text-anchor="start" stroke="#111" stroke-width="0.27">0</text>
<line x1="202.3" y1="20.2" x2="211.1" y2="20.2" stroke="#a20a32" stroke-width="1.5"/>
<circle cx="206.7" cy="20.2" r="1.7" fill="#a20a32"/>
<text x="212.6" y="22.4" font-family='"Liberation Serif", serif' font-size="7.4" fill="#1a1a1a" text-anchor="start" textLength="13.2" lengthAdjust="spacingAndGlyphs" stroke="#111" stroke-width="0.27">GPS</text>
<text x="227.8" y="22.4" font-family='"Liberation Serif", serif' font-size="7.4" fill="#1a1a1a" text-anchor="start" stroke="#111" stroke-width="0.27">-</text>
<text x="232" y="22.9" font-family='"Liberation Serif", serif' font-size="8.3" fill="#1a1a1a" text-anchor="start" stroke="#111" stroke-width="0.35">√</text>
<text x="236.6" y="22.4" font-family='"Liberation Serif", serif' font-size="7.4" fill="#1a1a1a" text-anchor="start" textLength="15.7" lengthAdjust="spacingAndGlyphs" stroke="#111" stroke-width="0.27">MSE</text>
<line x1="236.2" y1="17.1" x2="252.6" y2="17.1" stroke="#1a1a1a" stroke-width="0.6"/>
<text x="252.5" y="22.4" font-family='"Liberation Serif", serif' font-size="6.6" fill="#1a1a1a" text-anchor="start" font-style="italic" stroke="#111" stroke-width="0.27">r</text>
<text x="255.1" y="23.6" font-family='"Liberation Serif", serif' font-size="5.0" fill="#1a1a1a" text-anchor="start" stroke="#111" stroke-width="0.27">1</text>
<line x1="202.3" y1="28.7" x2="211.1" y2="28.7" stroke="#ff641a" stroke-width="1" stroke-opacity="0.45"/>
<line x1="202.3" y1="28.7" x2="211.1" y2="28.7" stroke="#ff641a" stroke-width="1" stroke-opacity="0.6" stroke-dasharray="2 0.6 0.3 0.6"/>
<path d="M205.08 29.6L208.32 29.6L206.7 26.9Z" fill="#ff641a"/>
<text x="212.6" y="30.9" font-family='"Liberation Serif", serif' font-size="7.4" fill="#1a1a1a" text-anchor="start" textLength="13.2" lengthAdjust="spacingAndGlyphs" stroke="#111" stroke-width="0.27">GPS</text>
<text x="227.8" y="30.9" font-family='"Liberation Serif", serif' font-size="7.4" fill="#1a1a1a" text-anchor="start" stroke="#111" stroke-width="0.27">-</text>
<text x="232" y="31.4" font-family='"Liberation Serif", serif' font-size="8.3" fill="#1a1a1a" text-anchor="start" stroke="#111" stroke-width="0.35">√</text>
<text x="236.6" y="30.9" font-family='"Liberation Serif", serif' font-size="7.4" fill="#1a1a1a" text-anchor="start" textLength="15.7" lengthAdjust="spacingAndGlyphs" stroke="#111" stroke-width="0.27">CRB</text>
<line x1="236.2" y1="25.6" x2="252.6" y2="25.6" stroke="#1a1a1a" stroke-width="0.6"/>
<text x="252.5" y="30.9" font-family='"Liberation Serif", serif' font-size="6.6" fill="#1a1a1a" text-anchor="start" font-style="italic" stroke="#111" stroke-width="0.27">r</text>
<text x="255.1" y="32.1" font-family='"Liberation Serif", serif' font-size="5.0" fill="#1a1a1a" text-anchor="start" stroke="#111" stroke-width="0.27">0</text>
<line x1="202.3" y1="37.2" x2="211.1" y2="37.2" stroke="#a20c36" stroke-width="1" stroke-opacity="0.45"/>
<line x1="202.3" y1="37.2" x2="211.1" y2="37.2" stroke="#a20c36" stroke-width="1" stroke-opacity="0.6" stroke-dasharray="2 0.6 0.3 0.6"/>
<path d="M205.08 36.3L208.32 36.3L206.7 39Z" fill="#a20c36"/>
<text x="212.6" y="39.4" font-family='"Liberation Serif", serif' font-size="7.4" fill="#1a1a1a" text-anchor="start" textLength="13.2" lengthAdjust="spacingAndGlyphs" stroke="#111" stroke-width="0.27">GPS</text>
<text x="227.8" y="39.4" font-family='"Liberation Serif", serif' font-size="7.4" fill="#1a1a1a" text-anchor="start" stroke="#111" stroke-width="0.27">-</text>
<text x="232" y="39.9" font-family='"Liberation Serif", serif' font-size="8.3" fill="#1a1a1a" text-anchor="start" stroke="#111" stroke-width="0.35">√</text>
<text x="236.6" y="39.4" font-family='"Liberation Serif", serif' font-size="7.4" fill="#1a1a1a" text-anchor="start" textLength="15.7" lengthAdjust="spacingAndGlyphs" stroke="#111" stroke-width="0.27">CRB</text>
<line x1="236.2" y1="34.1" x2="252.6" y2="34.1" stroke="#1a1a1a" stroke-width="0.6"/>
<text x="252.5" y="39.4" font-family='"Liberation Serif", serif' font-size="6.6" fill="#1a1a1a" text-anchor="start" font-style="italic" stroke="#111" stroke-width="0.27">r</text>
<text x="255.1" y="40.6" font-family='"Liberation Serif", serif' font-size="5.0" fill="#1a1a1a" text-anchor="start" stroke="#111" stroke-width="0.27">1</text>
<rect x="480" y="8.3" width="61.6" height="35.4" fill="#fff" stroke="#c4c4c4" stroke-width="0.6"/>
<line x1="482" y1="13.5" x2="490.8" y2="13.5" stroke="#ff6014" stroke-width="1.5"/>
<circle cx="486.4" cy="13.5" r="1.7" fill="#ff6014"/>
<text x="491.5" y="15.7" font-family='"Liberation Serif", serif' font-size="7.4" fill="#1a1a1a" text-anchor="start" textLength="13.2" lengthAdjust="spacingAndGlyphs" stroke="#111" stroke-width="0.27">GPS</text>
<text x="506.7" y="15.7" font-family='"Liberation Serif", serif' font-size="7.4" fill="#1a1a1a" text-anchor="start" stroke="#111" stroke-width="0.27">-</text>
<text x="510.9" y="16.2" font-family='"Liberation Serif", serif' font-size="8.3" fill="#1a1a1a" text-anchor="start" stroke="#111" stroke-width="0.35">√</text>
<text x="515.5" y="15.7" font-family='"Liberation Serif", serif' font-size="7.4" fill="#1a1a1a" text-anchor="start" textLength="15.7" lengthAdjust="spacingAndGlyphs" stroke="#111" stroke-width="0.27">MSE</text>
<line x1="515.1" y1="10.4" x2="531.5" y2="10.4" stroke="#1a1a1a" stroke-width="0.6"/>
<text x="531.6" y="15.7" font-family='"Liberation Serif", serif' font-size="7.2" fill="#1a1a1a" text-anchor="start" font-style="italic" stroke="#111" stroke-width="0.27">F</text>
<text x="535.9" y="17" font-family='"Liberation Serif", serif' font-size="4.8" fill="#1a1a1a" text-anchor="start" textLength="5" lengthAdjust="spacingAndGlyphs" font-style="italic" stroke="#111" stroke-width="0.27">d0</text>
<line x1="482" y1="22" x2="490.8" y2="22" stroke="#a20a32" stroke-width="1.5"/>
<circle cx="486.4" cy="22" r="1.7" fill="#a20a32"/>
<text x="491.5" y="24.2" font-family='"Liberation Serif", serif' font-size="7.4" fill="#1a1a1a" text-anchor="start" textLength="13.2" lengthAdjust="spacingAndGlyphs" stroke="#111" stroke-width="0.27">GPS</text>
<text x="506.7" y="24.2" font-family='"Liberation Serif", serif' font-size="7.4" fill="#1a1a1a" text-anchor="start" stroke="#111" stroke-width="0.27">-</text>
<text x="510.9" y="24.7" font-family='"Liberation Serif", serif' font-size="8.3" fill="#1a1a1a" text-anchor="start" stroke="#111" stroke-width="0.35">√</text>
<text x="515.5" y="24.2" font-family='"Liberation Serif", serif' font-size="7.4" fill="#1a1a1a" text-anchor="start" textLength="15.7" lengthAdjust="spacingAndGlyphs" stroke="#111" stroke-width="0.27">MSE</text>
<line x1="515.1" y1="18.9" x2="531.5" y2="18.9" stroke="#1a1a1a" stroke-width="0.6"/>
<text x="531.6" y="24.2" font-family='"Liberation Serif", serif' font-size="7.2" fill="#1a1a1a" text-anchor="start" font-style="italic" stroke="#111" stroke-width="0.27">F</text>
<text x="535.9" y="25.5" font-family='"Liberation Serif", serif' font-size="4.8" fill="#1a1a1a" text-anchor="start" textLength="5" lengthAdjust="spacingAndGlyphs" font-style="italic" stroke="#111" stroke-width="0.27">d1</text>
<line x1="482" y1="30.5" x2="490.8" y2="30.5" stroke="#ff641a" stroke-width="1" stroke-opacity="0.45"/>
<line x1="482" y1="30.5" x2="490.8" y2="30.5" stroke="#ff641a" stroke-width="1" stroke-opacity="0.6" stroke-dasharray="2 0.6 0.3 0.6"/>
<path d="M484.78 31.4L488.02 31.4L486.4 28.7Z" fill="#ff641a"/>
<text x="491.5" y="32.7" font-family='"Liberation Serif", serif' font-size="7.4" fill="#1a1a1a" text-anchor="start" textLength="13.2" lengthAdjust="spacingAndGlyphs" stroke="#111" stroke-width="0.27">GPS</text>
<text x="506.7" y="32.7" font-family='"Liberation Serif", serif' font-size="7.4" fill="#1a1a1a" text-anchor="start" stroke="#111" stroke-width="0.27">-</text>
<text x="510.9" y="33.2" font-family='"Liberation Serif", serif' font-size="8.3" fill="#1a1a1a" text-anchor="start" stroke="#111" stroke-width="0.35">√</text>
<text x="515.5" y="32.7" font-family='"Liberation Serif", serif' font-size="7.4" fill="#1a1a1a" text-anchor="start" textLength="15.7" lengthAdjust="spacingAndGlyphs" stroke="#111" stroke-width="0.27">CRB</text>
<line x1="515.1" y1="27.4" x2="531.5" y2="27.4" stroke="#1a1a1a" stroke-width="0.6"/>
<text x="531.6" y="32.7" font-family='"Liberation Serif", serif' font-size="7.2" fill="#1a1a1a" text-anchor="start" font-style="italic" stroke="#111" stroke-width="0.27">F</text>
<text x="535.9" y="34" font-family='"Liberation Serif", serif' font-size="4.8" fill="#1a1a1a" text-anchor="start" textLength="5" lengthAdjust="spacingAndGlyphs" font-style="italic" stroke="#111" stroke-width="0.27">d0</text>
<line x1="482" y1="39" x2="490.8" y2="39" stroke="#a20c36" stroke-width="1" stroke-opacity="0.45"/>
<line x1="482" y1="39" x2="490.8" y2="39" stroke="#a20c36" stroke-width="1" stroke-opacity="0.6" stroke-dasharray="2 0.6 0.3 0.6"/>
<path d="M484.78 38.1L488.02 38.1L486.4 40.8Z" fill="#a20c36"/>
<text x="491.5" y="41.2" font-family='"Liberation Serif", serif' font-size="7.4" fill="#1a1a1a" text-anchor="start" textLength="13.2" lengthAdjust="spacingAndGlyphs" stroke="#111" stroke-width="0.27">GPS</text>
<text x="506.7" y="41.2" font-family='"Liberation Serif", serif' font-size="7.4" fill="#1a1a1a" text-anchor="start" stroke="#111" stroke-width="0.27">-</text>
<text x="510.9" y="41.7" font-family='"Liberation Serif", serif' font-size="8.3" fill="#1a1a1a" text-anchor="start" stroke="#111" stroke-width="0.35">√</text>
<text x="515.5" y="41.2" font-family='"Liberation Serif", serif' font-size="7.4" fill="#1a1a1a" text-anchor="start" textLength="15.7" lengthAdjust="spacingAndGlyphs" stroke="#111" stroke-width="0.27">CRB</text>
<line x1="515.1" y1="35.9" x2="531.5" y2="35.9" stroke="#1a1a1a" stroke-width="0.6"/>
<text x="531.6" y="41.2" font-family='"Liberation Serif", serif' font-size="7.2" fill="#1a1a1a" text-anchor="start" font-style="italic" stroke="#111" stroke-width="0.27">F</text>
<text x="535.9" y="42.5" font-family='"Liberation Serif", serif' font-size="4.8" fill="#1a1a1a" text-anchor="start" textLength="5" lengthAdjust="spacingAndGlyphs" font-style="italic" stroke="#111" stroke-width="0.27">d1</text>
<rect x="200.2" y="223.4" width="59.4" height="35.9" fill="#fff" stroke="#c4c4c4" stroke-width="0.6"/>
<line x1="202.2" y1="228.5" x2="211" y2="228.5" stroke="#0a8cf2" stroke-width="1.5"/>
<path d="M205 228.5H208.2M206.6 226.9V230.1" stroke="#0a8cf2" stroke-width="0.7" fill="none"/>
<text x="212.5" y="230.7" font-family='"Liberation Serif", serif' font-size="7.4" fill="#1a1a1a" text-anchor="start" textLength="13.2" lengthAdjust="spacingAndGlyphs" stroke="#111" stroke-width="0.27">LFM</text>
<text x="227.7" y="230.7" font-family='"Liberation Serif", serif' font-size="7.4" fill="#1a1a1a" text-anchor="start" stroke="#111" stroke-width="0.27">-</text>
<text x="231.9" y="231.2" font-family='"Liberation Serif", serif' font-size="8.3" fill="#1a1a1a" text-anchor="start" stroke="#111" stroke-width="0.35">√</text>
<text x="236.5" y="230.7" font-family='"Liberation Serif", serif' font-size="7.4" fill="#1a1a1a" text-anchor="start" textLength="15.7" lengthAdjust="spacingAndGlyphs" stroke="#111" stroke-width="0.27">MSE</text>
<line x1="236.1" y1="225.4" x2="252.5" y2="225.4" stroke="#1a1a1a" stroke-width="0.6"/>
<text x="252.4" y="230.7" font-family='"Liberation Serif", serif' font-size="6.6" fill="#1a1a1a" text-anchor="start" font-style="italic" stroke="#111" stroke-width="0.27">r</text>
<text x="255" y="231.9" font-family='"Liberation Serif", serif' font-size="5.0" fill="#1a1a1a" text-anchor="start" stroke="#111" stroke-width="0.27">0</text>
<line x1="202.2" y1="237.2" x2="211" y2="237.2" stroke="#0a6cc2" stroke-width="1.5"/>
<circle cx="206.6" cy="237.2" r="2.2" fill="#0a6cc2"/>
<text x="212.5" y="239.4" font-family='"Liberation Serif", serif' font-size="7.4" fill="#1a1a1a" text-anchor="start" textLength="13.2" lengthAdjust="spacingAndGlyphs" stroke="#111" stroke-width="0.27">LFM</text>
<text x="227.7" y="239.4" font-family='"Liberation Serif", serif' font-size="7.4" fill="#1a1a1a" text-anchor="start" stroke="#111" stroke-width="0.27">-</text>
<text x="231.9" y="239.9" font-family='"Liberation Serif", serif' font-size="8.3" fill="#1a1a1a" text-anchor="start" stroke="#111" stroke-width="0.35">√</text>
<text x="236.5" y="239.4" font-family='"Liberation Serif", serif' font-size="7.4" fill="#1a1a1a" text-anchor="start" textLength="15.7" lengthAdjust="spacingAndGlyphs" stroke="#111" stroke-width="0.27">MSE</text>
<line x1="236.1" y1="234.1" x2="252.5" y2="234.1" stroke="#1a1a1a" stroke-width="0.6"/>
<text x="252.4" y="239.4" font-family='"Liberation Serif", serif' font-size="6.6" fill="#1a1a1a" text-anchor="start" font-style="italic" stroke="#111" stroke-width="0.27">r</text>
<text x="255" y="240.6" font-family='"Liberation Serif", serif' font-size="5.0" fill="#1a1a1a" text-anchor="start" stroke="#111" stroke-width="0.27">1</text>
<line x1="202.2" y1="245.9" x2="211" y2="245.9" stroke="#0e90f2" stroke-width="1" stroke-opacity="0.45"/>
<line x1="202.2" y1="245.9" x2="211" y2="245.9" stroke="#0e90f2" stroke-width="1" stroke-opacity="0.6" stroke-dasharray="2 0.6 0.3 0.6"/>
<path d="M207.5 244.28L207.5 247.52L204.8 245.9Z" fill="#0e90f2"/>
<text x="212.5" y="248.1" font-family='"Liberation Serif", serif' font-size="7.4" fill="#1a1a1a" text-anchor="start" textLength="13.2" lengthAdjust="spacingAndGlyphs" stroke="#111" stroke-width="0.27">LFM</text>
<text x="227.7" y="248.1" font-family='"Liberation Serif", serif' font-size="7.4" fill="#1a1a1a" text-anchor="start" stroke="#111" stroke-width="0.27">-</text>
<text x="231.9" y="248.6" font-family='"Liberation Serif", serif' font-size="8.3" fill="#1a1a1a" text-anchor="start" stroke="#111" stroke-width="0.35">√</text>
<text x="236.5" y="248.1" font-family='"Liberation Serif", serif' font-size="7.4" fill="#1a1a1a" text-anchor="start" textLength="15.7" lengthAdjust="spacingAndGlyphs" stroke="#111" stroke-width="0.27">CRB</text>
<line x1="236.1" y1="242.8" x2="252.5" y2="242.8" stroke="#1a1a1a" stroke-width="0.6"/>
<text x="252.4" y="248.1" font-family='"Liberation Serif", serif' font-size="6.6" fill="#1a1a1a" text-anchor="start" font-style="italic" stroke="#111" stroke-width="0.27">r</text>
<text x="255" y="249.3" font-family='"Liberation Serif", serif' font-size="5.0" fill="#1a1a1a" text-anchor="start" stroke="#111" stroke-width="0.27">0</text>
<line x1="202.2" y1="254.6" x2="211" y2="254.6" stroke="#0c6cc2" stroke-width="1" stroke-opacity="0.45"/>
<line x1="202.2" y1="254.6" x2="211" y2="254.6" stroke="#0c6cc2" stroke-width="1" stroke-opacity="0.6" stroke-dasharray="2 0.6 0.3 0.6"/>
<path d="M205.7 252.98L205.7 256.22L208.4 254.6Z" fill="#0c6cc2"/>
<text x="212.5" y="256.8" font-family='"Liberation Serif", serif' font-size="7.4" fill="#1a1a1a" text-anchor="start" textLength="13.2" lengthAdjust="spacingAndGlyphs" stroke="#111" stroke-width="0.27">LFM</text>
<text x="227.7" y="256.8" font-family='"Liberation Serif", serif' font-size="7.4" fill="#1a1a1a" text-anchor="start" stroke="#111" stroke-width="0.27">-</text>
<text x="231.9" y="257.3" font-family='"Liberation Serif", serif' font-size="8.3" fill="#1a1a1a" text-anchor="start" stroke="#111" stroke-width="0.35">√</text>
<text x="236.5" y="256.8" font-family='"Liberation Serif", serif' font-size="7.4" fill="#1a1a1a" text-anchor="start" textLength="15.7" lengthAdjust="spacingAndGlyphs" stroke="#111" stroke-width="0.27">CRB</text>
<line x1="236.1" y1="251.5" x2="252.5" y2="251.5" stroke="#1a1a1a" stroke-width="0.6"/>
<text x="252.4" y="256.8" font-family='"Liberation Serif", serif' font-size="6.6" fill="#1a1a1a" text-anchor="start" font-style="italic" stroke="#111" stroke-width="0.27">r</text>
<text x="255" y="258" font-family='"Liberation Serif", serif' font-size="5.0" fill="#1a1a1a" text-anchor="start" stroke="#111" stroke-width="0.27">1</text>
<rect x="480" y="224.3" width="62" height="35.4" fill="#fff" stroke="#c4c4c4" stroke-width="0.6"/>
<line x1="482" y1="229.5" x2="490.8" y2="229.5" stroke="#0a8cf2" stroke-width="1.5"/>
<path d="M484.8 229.5H488M486.4 227.9V231.1" stroke="#0a8cf2" stroke-width="0.7" fill="none"/>
<text x="491.5" y="231.7" font-family='"Liberation Serif", serif' font-size="7.4" fill="#1a1a1a" text-anchor="start" textLength="13.2" lengthAdjust="spacingAndGlyphs" stroke="#111" stroke-width="0.27">LFM</text>
<text x="506.7" y="231.7" font-family='"Liberation Serif", serif' font-size="7.4" fill="#1a1a1a" text-anchor="start" stroke="#111" stroke-width="0.27">-</text>
<text x="510.9" y="232.2" font-family='"Liberation Serif", serif' font-size="8.3" fill="#1a1a1a" text-anchor="start" stroke="#111" stroke-width="0.35">√</text>
<text x="515.5" y="231.7" font-family='"Liberation Serif", serif' font-size="7.4" fill="#1a1a1a" text-anchor="start" textLength="15.7" lengthAdjust="spacingAndGlyphs" stroke="#111" stroke-width="0.27">MSE</text>
<line x1="515.1" y1="226.4" x2="531.5" y2="226.4" stroke="#1a1a1a" stroke-width="0.6"/>
<text x="531.6" y="231.7" font-family='"Liberation Serif", serif' font-size="7.2" fill="#1a1a1a" text-anchor="start" font-style="italic" stroke="#111" stroke-width="0.27">F</text>
<text x="535.9" y="233" font-family='"Liberation Serif", serif' font-size="4.8" fill="#1a1a1a" text-anchor="start" textLength="5" lengthAdjust="spacingAndGlyphs" font-style="italic" stroke="#111" stroke-width="0.27">d0</text>
<line x1="482" y1="238.23" x2="490.8" y2="238.23" stroke="#0a6cc2" stroke-width="1.5"/>
<circle cx="486.4" cy="238.23" r="2.2" fill="#0a6cc2"/>
<text x="491.5" y="240.43" font-family='"Liberation Serif", serif' font-size="7.4" fill="#1a1a1a" text-anchor="start" textLength="13.2" lengthAdjust="spacingAndGlyphs" stroke="#111" stroke-width="0.27">LFM</text>
<text x="506.7" y="240.43" font-family='"Liberation Serif", serif' font-size="7.4" fill="#1a1a1a" text-anchor="start" stroke="#111" stroke-width="0.27">-</text>
<text x="510.9" y="240.93" font-family='"Liberation Serif", serif' font-size="8.3" fill="#1a1a1a" text-anchor="start" stroke="#111" stroke-width="0.35">√</text>
<text x="515.5" y="240.43" font-family='"Liberation Serif", serif' font-size="7.4" fill="#1a1a1a" text-anchor="start" textLength="15.7" lengthAdjust="spacingAndGlyphs" stroke="#111" stroke-width="0.27">MSE</text>
<line x1="515.1" y1="235.13" x2="531.5" y2="235.13" stroke="#1a1a1a" stroke-width="0.6"/>
<text x="531.6" y="240.43" font-family='"Liberation Serif", serif' font-size="7.2" fill="#1a1a1a" text-anchor="start" font-style="italic" stroke="#111" stroke-width="0.27">F</text>
<text x="535.9" y="241.73" font-family='"Liberation Serif", serif' font-size="4.8" fill="#1a1a1a" text-anchor="start" textLength="5" lengthAdjust="spacingAndGlyphs" font-style="italic" stroke="#111" stroke-width="0.27">d1</text>
<line x1="482" y1="246.96" x2="490.8" y2="246.96" stroke="#0e90f2" stroke-width="1" stroke-opacity="0.45"/>
<line x1="482" y1="246.96" x2="490.8" y2="246.96" stroke="#0e90f2" stroke-width="1" stroke-opacity="0.6" stroke-dasharray="2 0.6 0.3 0.6"/>
<path d="M487.3 245.34L487.3 248.58L484.6 246.96Z" fill="#0e90f2"/>
<text x="491.5" y="249.16" font-family='"Liberation Serif", serif' font-size="7.4" fill="#1a1a1a" text-anchor="start" textLength="13.2" lengthAdjust="spacingAndGlyphs" stroke="#111" stroke-width="0.27">LFM</text>
<text x="506.7" y="249.16" font-family='"Liberation Serif", serif' font-size="7.4" fill="#1a1a1a" text-anchor="start" stroke="#111" stroke-width="0.27">-</text>
<text x="510.9" y="249.66" font-family='"Liberation Serif", serif' font-size="8.3" fill="#1a1a1a" text-anchor="start" stroke="#111" stroke-width="0.35">√</text>
<text x="515.5" y="249.16" font-family='"Liberation Serif", serif' font-size="7.4" fill="#1a1a1a" text-anchor="start" textLength="15.7" lengthAdjust="spacingAndGlyphs" stroke="#111" stroke-width="0.27">CRB</text>
<line x1="515.1" y1="243.86" x2="531.5" y2="243.86" stroke="#1a1a1a" stroke-width="0.6"/>
<text x="531.6" y="249.16" font-family='"Liberation Serif", serif' font-size="7.2" fill="#1a1a1a" text-anchor="start" font-style="italic" stroke="#111" stroke-width="0.27">F</text>
<text x="535.9" y="250.46" font-family='"Liberation Serif", serif' font-size="4.8" fill="#1a1a1a" text-anchor="start" textLength="5" lengthAdjust="spacingAndGlyphs" font-style="italic" stroke="#111" stroke-width="0.27">d0</text>
<line x1="482" y1="255.69" x2="490.8" y2="255.69" stroke="#0c6cc2" stroke-width="1" stroke-opacity="0.45"/>
<line x1="482" y1="255.69" x2="490.8" y2="255.69" stroke="#0c6cc2" stroke-width="1" stroke-opacity="0.6" stroke-dasharray="2 0.6 0.3 0.6"/>
<path d="M485.5 254.07L485.5 257.31L488.2 255.69Z" fill="#0c6cc2"/>
<text x="491.5" y="257.89" font-family='"Liberation Serif", serif' font-size="7.4" fill="#1a1a1a" text-anchor="start" textLength="13.2" lengthAdjust="spacingAndGlyphs" stroke="#111" stroke-width="0.27">LFM</text>
<text x="506.7" y="257.89" font-family='"Liberation Serif", serif' font-size="7.4" fill="#1a1a1a" text-anchor="start" stroke="#111" stroke-width="0.27">-</text>
<text x="510.9" y="258.39" font-family='"Liberation Serif", serif' font-size="8.3" fill="#1a1a1a" text-anchor="start" stroke="#111" stroke-width="0.35">√</text>
<text x="515.5" y="257.89" font-family='"Liberation Serif", serif' font-size="7.4" fill="#1a1a1a" text-anchor="start" textLength="15.7" lengthAdjust="spacingAndGlyphs" stroke="#111" stroke-width="0.27">CRB</text>
<line x1="515.1" y1="252.59" x2="531.5" y2="252.59" stroke="#1a1a1a" stroke-width="0.6"/>
<text x="531.6" y="257.89" font-family='"Liberation Serif", serif' font-size="7.2" fill="#1a1a1a" text-anchor="start" font-style="italic" stroke="#111" stroke-width="0.27">F</text>
<text x="535.9" y="259.19" font-family='"Liberation Serif", serif' font-size="4.8" fill="#1a1a1a" text-anchor="start" textLength="5" lengthAdjust="spacingAndGlyphs" font-style="italic" stroke="#111" stroke-width="0.27">d1</text>
</svg>
</body></html>
